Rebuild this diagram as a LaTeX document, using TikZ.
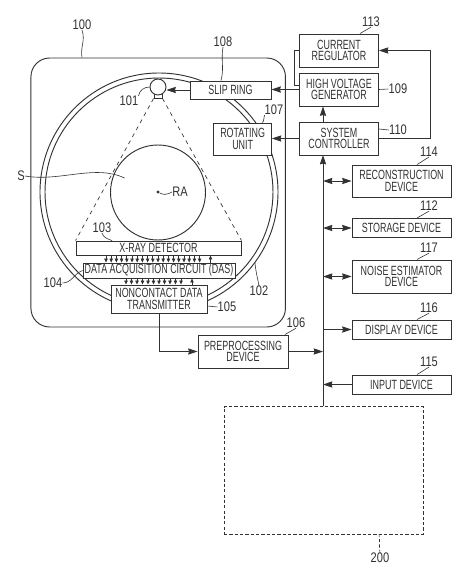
\documentclass[tikz,border=0pt]{standalone}
\usepackage{fontspec}
\usepackage{tikz}
\usetikzlibrary{arrows.meta,positioning,calc}
\newfontfamily\figfont[FakeStretch=0.67]{Liberation Sans}
\newfontfamily\numfont[FakeStretch=0.8]{Liberation Sans}
\definecolor{ink}{RGB}{50,50,50}
\tikzset{
  sized/.style 2 args={minimum width=#1*0.75pt,minimum height=#2*0.75pt},
  box/.style={rectangle,draw=ink,fill=white,text=ink,align=center,inner sep=0pt,line width=.7pt,
              font=\figfont\fontsize{10}{8.8}\selectfont},
  num/.style={inner sep=0pt,text=ink,font=\numfont\fontsize{10.4}{11}\selectfont},
  fl/.style={-{Stealth[length=7pt,width=4.6pt,inset=.6pt]},draw=ink,line width=.7pt},
  fl2/.style={{Stealth[length=7pt,width=4.6pt,inset=.6pt]}-{Stealth[length=7pt,width=4.6pt,inset=.6pt]},draw=ink,line width=.7pt},
  wire/.style={draw=ink,line width=.7pt},
  lead/.style={draw=ink,line width=.45pt},
  dash200/.style={dash pattern=on 2.4pt off 1.6pt},
  tick/.style={-{Stealth[length=3pt,width=2.6pt,inset=0pt]},draw=ink,line width=.5pt},
}
\begin{document}
\begin{tikzpicture}[x=0.75pt,y=-0.75pt]
  \useasboundingbox (0,0) rectangle (474,579);
  % gantry housing and rotating ring
  \node[box,sized={254.5}{269},rounded corners=14pt] (frame) at (158.2,192.5) {};
  \coordinate (iso) at (159,192);
  \draw[wire] (iso) circle[radius=119*0.75pt];
  \draw[wire] (iso) circle[radius=114*0.75pt];
  % tube, fan beam, subject
  \node[box,sized={8}{5}] (port) at (158,95.5) {};
  \node[box,circle,sized={16}{16}] (tube) at (158,87) {};
  \node[box,sized={165}{14}] (det) at (158.5,248) {X-RAY DETECTOR};
  \draw[wire,dashed,line width=.5pt] (port.south west) -- (det.north west);
  \draw[wire,dashed,line width=.5pt] (port.south east) -- (det.north east);
  \node[box,circle,sized={95}{95}] (subj) at (158,192.5) {};
  \node[fill=ink,circle,inner sep=0pt,minimum size=2.4pt] (ra) at (158,192) {};
  \node[num] (lra) at (180,192) {RA};
  \draw[lead] (ra) to[out=-30,in=210] (lra.west);
  \node[num] (ls) at (21,176) {S};
  \draw[lead] (ls.east) .. controls (60,182) and (95,164) .. (124.5,178);
  % boxes inside the ring
  \node[box,sized={152}{15}] (das) at (159,270.5) {DATA ACQUISITION CIRCUIT (DAS)};
  \node[box,sized={96}{28}] (ndt) at (159,299) {NONCONTACT DATA\\TRANSMITTER};
  \node[box,sized={81}{18}] (slip) at (230.5,90) {SLIP RING};
  \node[box,sized={57.5}{32}] (rot) at (242.7,139) {ROTATING\\UNIT};
  % control column
  \node[box,sized={79}{33}] (reg) at (339,50.5) {CURRENT\\REGULATOR};
  \node[box,sized={79}{33}] (hv) at (339,89.5) {HIGH VOLTAGE\\GENERATOR};
  \node[box,sized={79}{33}] (sys) at (339,138.5) {SYSTEM\\CONTROLLER};
  \node[box,sized={90}{33}] (pre) at (243,351.5) {PREPROCESSING\\DEVICE};
  % right column
  \node[box,sized={99}{32}] (rec) at (401.5,181) {RECONSTRUCTION\\DEVICE};
  \node[box,sized={99}{19}] (sto) at (401.5,228) {STORAGE DEVICE};
  \node[box,sized={99}{33}] (noi) at (401.5,276.5) {NOISE ESTIMATOR\\DEVICE};
  \node[box,sized={99}{19}] (dis) at (401.5,329.5) {DISPLAY DEVICE};
  \node[box,sized={99}{19}] (inp) at (401.5,384.5) {INPUT DEVICE};
  \node[box,dash200,sized={199}{127.5}] (ext) at (323.5,470.5) {};
  % bus
  \coordinate (bustop) at (323,155);
  \coordinate (hvin) at (299,85);
  \draw[fl] (ext.north -| bustop) -- (bustop);
  \draw[fl] (bustop |- sys.north) -- (bustop |- hv.south);
  \draw[fl2] (rec.west) -- (rec.west -| bustop);
  \draw[fl2] (sto.west) -- (sto.west -| bustop);
  \draw[fl2] (noi.west) -- (noi.west -| bustop);
  \draw[fl] (dis.west -| bustop) -- (dis.west);
  \draw[fl] (inp.west) -- (inp.west -| bustop);
  \draw[fl] (pre.east) -- (pre.east -| bustop);
  % controller outputs
  \draw[fl] (sys.west) -- (sys.west -| rot.east);
  \draw[fl] (hv.west) -- (hv.west -| slip.east);
  \draw[fl] (slip.west) -- (slip.west -| tube.east);
  \draw[wire] (reg.west) -- ++(-5,0) |- (hvin);
  \draw[fl] (sys.east) -- ++(51,0) |- (reg.east);
  \draw[fl] (ndt.south) |- (pre.west);
  % signal ticks, the last one of each row runs back
  \foreach \x in {106,111.2,...,201} \draw[tick] (\x,0 |- det.south) -- (\x,0 |- das.north);
  \draw[tick] (210.5,0 |- das.north) -- (210.5,0 |- det.south);
  \foreach \x in {126,131.5,...,186} \draw[tick] (\x,0 |- das.south) -- (\x,0 |- ndt.north);
  \draw[tick] (192,0 |- ndt.north) -- (192,0 |- das.south);
  % reference numerals
  \node[num] (l100) at (82,25) {100};
  \draw[lead] (l100.south) to[out=-70,in=100] (frame.north -| l100.south);
  \node[num] (l108) at (223,42) {108};
  \draw[lead] (l108.south) to[out=-100,in=75] (slip.north -| 221,0);
  \node[num] (l101) at (129,101) {101};
  \draw[lead] (l101.north east) to[out=80,in=180] (tube.west);
  \node[num] (l113) at (371,22) {113};
  \draw[lead] (l113.south) to[out=-150,in=30] (reg.north -| 360,0);
  \node[num] (l109) at (398,89) {109};
  \draw[lead] (l109.west) to[out=190,in=10] (hv.east);
  \node[num] (l110) at (398,130) {110};
  \draw[lead] (l110.west) to[out=190,in=10] (sys.east |- 0,129);
  \node[num] (l107) at (274,110) {107};
  \draw[lead] (l107.south west) to[out=-120,in=20] (rot.north -| 262,0);
  \node[num] (l114) at (429,152) {114};
  \draw[lead] (l114.south) to[out=-150,in=30] (rec.north -| 417,0);
  \node[num] (l112) at (429,206) {112};
  \draw[lead] (l112.south) to[out=-150,in=30] (sto.north -| 417,0);
  \node[num] (l117) at (429,248) {117};
  \draw[lead] (l117.south) to[out=-150,in=30] (noi.north -| 417,0);
  \node[num] (l116) at (429,308) {116};
  \draw[lead] (l116.south) to[out=-150,in=30] (dis.north -| 417,0);
  \node[num] (l115) at (429,362) {115};
  \draw[lead] (l115.south) to[out=-150,in=30] (inp.north -| 417,0);
  \node[num] (l106) at (296,323) {106};
  \draw[lead] (l106.south) to[out=-150,in=30] (pre.north -| 285,0);
  \node[num] (l102) at (259,291) {102};
  \draw[lead] (l102.north) to[out=100,in=-85] (255,263);
  \node[num] (l103) at (102,228) {103};
  \draw[lead] (l103.south) to[out=-70,in=160] (det.north -| 112,0);
  \node[num] (l104) at (53,283) {104};
  \draw[lead] (l104.east) to[out=0,in=200] (das.west);
  \node[num] (l105) at (227,307) {105};
  \draw[lead] (l105.west) to[out=190,in=10] (ndt.east |- 0,306);
  \node[num] (l200) at (380,558) {200};
  \draw[lead,dash200] (l200.north) to[out=100,in=-80] (ext.south -| 379,0);
\end{tikzpicture}
\end{document}
